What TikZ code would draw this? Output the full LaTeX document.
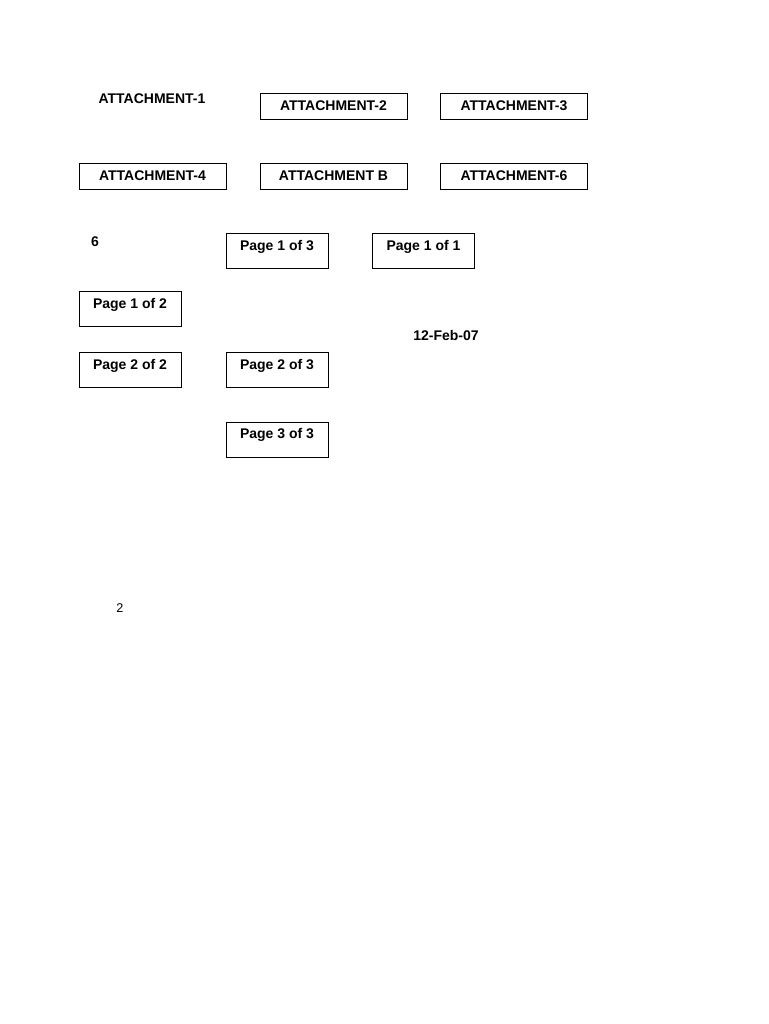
\documentclass[tikz,border=0pt]{standalone}
\usepackage{fontspec}
\setmainfont{Liberation Sans}
\begin{document}
\begin{tikzpicture}[x=0.75pt,y=-0.75pt,
  abox/.style={draw,line width=0.6pt,minimum width=110.25pt,minimum height=19.5pt,inner sep=0pt,font=\bfseries\fontsize{10.5}{12}\selectfont},
  pbox/.style={draw,line width=0.6pt,minimum width=76.5pt,minimum height=26.25pt,inner sep=0pt},
  ptext/.style={font=\bfseries\fontsize{10.5}{12}\selectfont,inner sep=0pt},
  free/.style={font=\bfseries\fontsize{10.5}{12}\selectfont,inner sep=0pt}]
\useasboundingbox (0,0) rectangle (768,1024);
\fill[white] (0,0) rectangle (768,1024);
\node[free] (a1) at (152,99) {ATTACHMENT-1};
\node[abox] (a2) at (333.5,106) {ATTACHMENT-2};
\node[abox] (a3) at (514,106) {ATTACHMENT-3};
\node[abox] (a4) at (152.5,176) {ATTACHMENT-4};
\node[abox] (ab) at (333.5,176) {ATTACHMENT B};
\node[abox] (a6) at (514,176) {ATTACHMENT-6};
\node[free] (six) at (95,242) {6};
\node[pbox] (p13) at (277,250.5) {};
\node[ptext] (t13) at (277,247) {Page 1 of 3};
\node[pbox] (p11) at (423.5,250.5) {};
\node[ptext] (t11) at (423.5,247) {Page 1 of 1};
\node[pbox] (p12) at (130,308.5) {};
\node[ptext] (t12) at (130,305) {Page 1 of 2};
\node[free] (date) at (446,335) {12-Feb-07};
\node[pbox] (p22) at (130,369.5) {};
\node[ptext] (t22) at (130,366) {Page 2 of 2};
\node[pbox] (p23) at (277,369.5) {};
\node[ptext] (t23) at (277,366) {Page 2 of 3};
\node[pbox] (p33) at (277,439.5) {};
\node[ptext] (t33) at (277,435) {Page 3 of 3};
\node[inner sep=0pt,font=\fontsize{9.5}{11}\selectfont] (two) at (120,608) {2};
\end{tikzpicture}
\end{document}
